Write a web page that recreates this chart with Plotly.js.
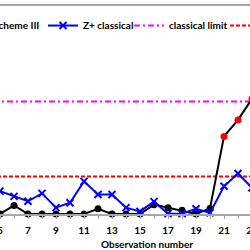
<!DOCTYPE html>
<html>
<head>
<meta charset="utf-8">
<script src="https://cdn.plot.ly/plotly-3.0.1.min.js"></script>
<style>
  html, body { margin: 0; padding: 0; width: 250px; height: 250px; overflow: hidden; background: #fff; }
  #wrap { position: absolute; left: 0; top: 0; width: 250px; height: 250px; overflow: hidden; }
  #chart { position: absolute; left: -103px; top: 0; width: 480px; height: 250px; }
</style>
</head>
<body>
<div id="wrap"><div id="chart"></div></div>
<script>
// Observation numbers visible in the crop
const observations = [5, 6, 7, 8, 9, 10, 11, 12, 13, 14, 15, 16, 17, 18, 19, 20, 21, 22, 23];
// Scheme III statistic
const schemeIII = [0, 0.23, 0, 0, 0, 0, 0, 0.14, 0, 0, 0, 0.25, 0.17, 0.10, 0, 0.15, 2.07, 2.51, 3.07];
// Z+ classical statistic
const zClassical = [0.61, 0.47, 0.34, 0.55, 0.17, 0.30, 0.87, 0.52, 0.52, 0.17, 0.07, 0.33, 0.01, 0.01, 0.14, 0.03, 0.74, 1.08, 0.70];
// Control limits
const classicalLimit = 3.0;
const schemeIIILimit = 1.0;
const limitSpan = [0.5, 30.5];
const tickLabels = [1, 3, 5, 7, 9, 11, 13, 15, 17, 19, 21, 23, 25, 27, 29];

const signalColors = schemeIII.map((v, i) => observations[i] > 20 ? '#FF0000' : '#000000');

const font = { family: 'Lato, "Liberation Sans", sans-serif', size: 10, color: '#000000', weight: 'bold' };

const traces = [
  {
    name: 'classical limit', x: limitSpan, y: [classicalLimit, classicalLimit], type: 'scatter', mode: 'lines',
    line: { color: '#FF00FF', width: 2, dash: '6px,3px,2px,3px' }, legend: 'legend3'
  },
  {
    name: 'Scheme III limit', x: limitSpan, y: [schemeIIILimit, schemeIIILimit], type: 'scatter', mode: 'lines',
    line: { color: '#FF0000', width: 2, dash: '4px,2px' }, legend: 'legend4'
  },
  {
    name: 'Scheme III', x: observations, y: schemeIII, type: 'scatter', mode: 'lines+markers',
    line: { color: '#000000', width: 2 },
    marker: { color: signalColors, size: 7, symbol: 'circle' },
    cliponaxis: false, legend: 'legend'
  },
  {
    name: 'Z+ classical', x: observations, y: zClassical, type: 'scatter', mode: 'lines+markers',
    line: { color: '#0000FF', width: 2 },
    marker: { color: '#0000FF', size: 7, symbol: 'x-thin-open', line: { color: '#0000FF', width: 2 } },
    cliponaxis: false, legend: 'legend2'
  }
];

function legendAt(x) {
  return { orientation: 'h', x: x, xanchor: 'left', y: 1.103, yanchor: 'top',
           font: font, bgcolor: 'rgba(0,0,0,0)', borderwidth: 0 };
}

const layout = {
  width: 480, height: 250,
  margin: { l: 40, r: 20, t: 30, b: 36, autoexpand: false },
  paper_bgcolor: '#ffffff', plot_bgcolor: '#ffffff',
  font: font,
  showlegend: true,
  legend: legendAt(0.0381),
  legend2: legendAt(0.2524),
  legend3: legendAt(0.4571),
  legend4: legendAt(0.6857),
  xaxis: {
    range: limitSpan, tickmode: 'array', tickvals: tickLabels, ticktext: tickLabels.map(String),
    showline: true, linecolor: '#A6A6A6', linewidth: 1.5,
    ticks: 'outside', ticklen: 3, tickcolor: '#A6A6A6', tickwidth: 1,
    minor: { dtick: 1, tick0: 0, ticks: 'outside', ticklen: 3, tickcolor: '#A6A6A6', tickwidth: 1, showgrid: false },
    showgrid: false, zeroline: false,
    tickfont: font, ticklabelstandoff: 3,
    title: { text: 'Observation number', font: font, standoff: 9 }
  },
  yaxis: {
    range: [0, 4.907], showgrid: false, zeroline: false, showline: false,
    showticklabels: false, ticks: ''
  },
  shapes: [
    { type: 'line', xref: 'paper', yref: 'paper', x0: -0.2, x1: 1.2, y0: 1.136, y1: 1.136,
      line: { color: '#A6A6A6', width: 2 } }
  ]
};

Plotly.newPlot('chart', traces, layout, { displayModeBar: false, staticPlot: true });
</script>
</body>
</html>
